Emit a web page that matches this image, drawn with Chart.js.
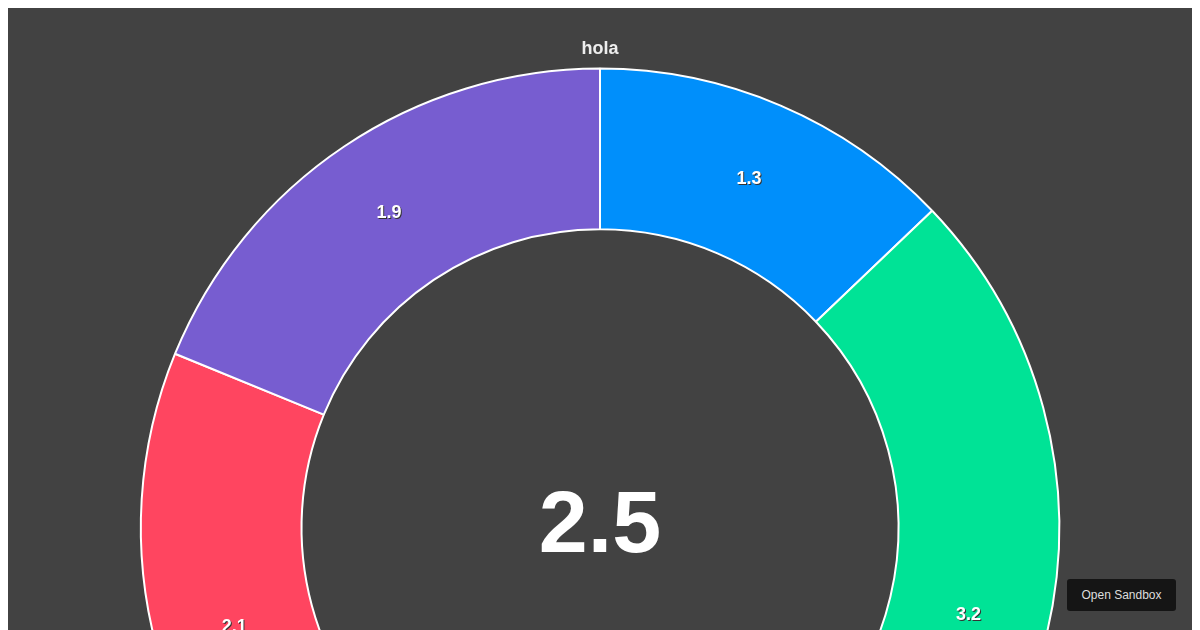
<!DOCTYPE html>
<html><head><meta charset="utf-8">
<script src="https://cdn.jsdelivr.net/npm/chart.js@4"></script>
<style>
body{margin:8px;background:#fff;overflow:hidden;font-family:"Liberation Sans",Arial,sans-serif}
#wrap{background:#424242;width:1184px;height:980px}
#btn{position:fixed;left:1067px;top:579px;width:109px;height:32px;background:#151515;color:#ddd;border-radius:3px;font-size:12px;line-height:32px;text-align:center;font-family:"Liberation Sans",Arial,sans-serif}
</style></head><body>
<div id="wrap"><canvas id="c" width="1184" height="980"></canvas></div>
<div id="btn">Open Sandbox</div>
<script>
const labels = ["A","B","C","D","E"];
const values = [1.3, 3.2, 1.6, 2.1, 1.9];
const colors = ["#008FFB","#00E396","#FEB019","#FF4560","#775DD0"];
const centerText = "2.5";
const titleText = "hola";

const labelPlugin = {
  id:'lbl',
  afterDatasetsDraw(chart){
    const ctx = chart.ctx;
    const meta = chart.getDatasetMeta(0);
    ctx.save();
    ctx.font = 'bold 18px "Liberation Sans", Arial, sans-serif';
    ctx.textAlign='center'; ctx.textBaseline='middle';
    meta.data.forEach((arc,i)=>{
      const p = arc.tooltipPosition();
      ctx.fillStyle='#333'; ctx.fillText(values[i], p.x+1, p.y+1);
      ctx.fillStyle='#fff'; ctx.fillText(values[i], p.x, p.y);
    });
    const a = meta.data[0];
    ctx.font = 'bold 88px "Liberation Sans", Arial, sans-serif';
    ctx.fillStyle='#fff';
    ctx.fillText(centerText, a.x, a.y);
    ctx.restore();
  }
};

new Chart(document.getElementById('c'), {
  type:'doughnut',
  data:{labels, datasets:[{data:values, backgroundColor:colors, borderColor:'#fff', borderWidth:2}]},
  options:{
    responsive:false, animation:false, cutout:'65%',
    layout:{padding:{top:18}},
    plugins:{
      legend:{display:false}, tooltip:{enabled:false},
      title:{display:true, text:titleText, color:'#eee', font:{size:18, weight:'bold', family:'"Liberation Sans", Arial, sans-serif'}, padding:{top:12,bottom:8}}
    }
  },
  plugins:[labelPlugin]
});
</script>
</body></html>
